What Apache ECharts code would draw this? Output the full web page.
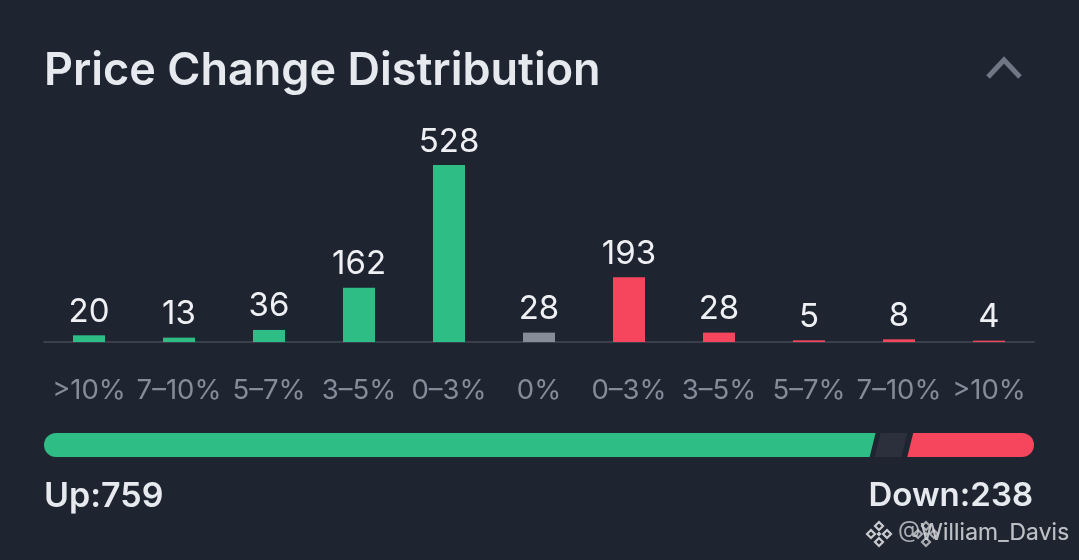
<!DOCTYPE html>
<html><head><meta charset="utf-8">
<style>html,body{margin:0;padding:0;background:#1e2430}#c{width:1079px;height:560px}</style>
<script src="https://cdn.jsdelivr.net/npm/echarts@6/dist/echarts.min.js"></script>
</head><body><div id="c"></div>
<script>
const categories = ['>10%','7–10%','5–7%','3–5%','0–3%','0%','0–3%','3–5%','5–7%','7–10%','>10%'];
const counts = [20,13,36,162,528,28,193,28,5,8,4];
const barKinds = ['up','up','up','up','up','flat','down','down','down','down','down'];
const upCount = 759;
const downCount = 238;
// stacked strip segments, as % of the strip length: [start, end, kind]
const stripSegments = [[0,83.7,'up'],[84.2,86.9,'strip'],[87.5,100,'down']];

const colors = {up:'#2dbd85',down:'#f6465d',flat:'#868c98',strip:'#2b303c'};
const font = 'Inter, "Open Sans", sans-serif';
const chart = echarts.init(document.getElementById('c'));

function stripItem(params, api){
  const seg = stripSegments[params.dataIndex];
  const a = api.coord([seg[0],1]), b = api.coord([seg[1],0]);
  const x0=a[0], x1=b[0], y0=a[1], y1=b[1], r=(y1-y0)/2, s=3;
  let d;
  if(seg[0]===0){
    d=`M${x0+r} ${y0}L${x1+s} ${y0}L${x1-s} ${y1}L${x0+r} ${y1}A${r} ${r} 0 0 1 ${x0+r} ${y0}Z`;
  }else if(seg[1]===100){
    d=`M${x0+s} ${y0}L${x1-r} ${y0}A${r} ${r} 0 0 1 ${x1-r} ${y1}L${x0-s} ${y1}Z`;
  }else{
    d=`M${x0+s} ${y0}L${x1+s} ${y0}L${x1-s} ${y1}L${x0-s} ${y1}Z`;
  }
  return {type:'path',shape:{pathData:d},style:{fill:colors[seg[2]]}};
}

function binanceMark(cx,cy,k,fill){
  const items=[];
  [[0,-8],[8,0],[0,8],[-8,0]].forEach(p=>{
    items.push({type:'polygon',shape:{points:[[p[0]*k,(p[1]-4)*k],[(p[0]+4)*k,p[1]*k],[p[0]*k,(p[1]+4)*k],[(p[0]-4)*k,p[1]*k]]},style:{fill:'none',stroke:fill,lineWidth:2.2*k}});
  });
  items.push({type:'polygon',shape:{points:[[0,-2.6*k],[2.6*k,0],[0,2.6*k],[-2.6*k,0]]},style:{fill}});
  return {type:'group',x:cx,y:cy,children:items};
}

chart.setOption({
  backgroundColor:'#1e2430',
  animation:false,
  title:{text:'Price Change Distribution',left:44,top:49,padding:0,
    textStyle:{color:'#e6e9ee',fontFamily:font,fontSize:45,fontWeight:600}},
  grid:[
    {left:44,width:990,top:141,height:201},
    {left:44,width:990,top:433,height:24}
  ],
  xAxis:[
    {type:'category',gridIndex:0,data:categories,
      axisLine:{lineStyle:{color:'#3a404b',width:2}},axisTick:{show:false},
      axisLabel:{color:'#858c99',fontFamily:font,fontSize:27.5,margin:35,interval:0}},
    {type:'value',gridIndex:1,min:0,max:100,show:false}
  ],
  yAxis:[
    {type:'value',gridIndex:0,min:0,max:600,show:false},
    {type:'value',gridIndex:1,min:0,max:1,show:false}
  ],
  series:[
    {type:'bar',xAxisIndex:0,yAxisIndex:0,barWidth:32,
      data:counts.map((v,i)=>({value:v,itemStyle:{color:colors[barKinds[i]]}})),
      label:{show:true,position:'top',distance:7,color:'#eef0f3',fontFamily:font,fontSize:33}},
    {type:'custom',xAxisIndex:1,yAxisIndex:1,renderItem:stripItem,
      encode:{x:[0,1]},data:stripSegments.map(s=>[s[0],s[1]])}
  ],
  graphic:[
    {type:'polyline',shape:{points:[[988,77],[1004,60],[1020,77]]},style:{stroke:'#6f7684',lineWidth:5,fill:'none'}},
    {type:'text',left:44,top:480,style:{text:'Up:'+upCount,fill:'#e6e9ee',font:`600 34px ${font}`}},
    {type:'text',right:46,top:480,style:{text:'Down:'+downCount,fill:'#e6e9ee',font:`600 33px ${font}`}},
    binanceMark(879,534,1,'#c9cbcf'),
    binanceMark(926,534,1,'#a9abb0'),
    {type:'text',left:898,top:522,style:{text:'@William_Davis',fill:'rgba(205,207,212,0.8)',font:`23px ${font}`}},
    {type:'text',left:920,top:522,style:{text:'William_Davis',fill:'rgba(205,207,212,0.55)',font:`23px ${font}`}}
  ]
});
</script></body></html>
